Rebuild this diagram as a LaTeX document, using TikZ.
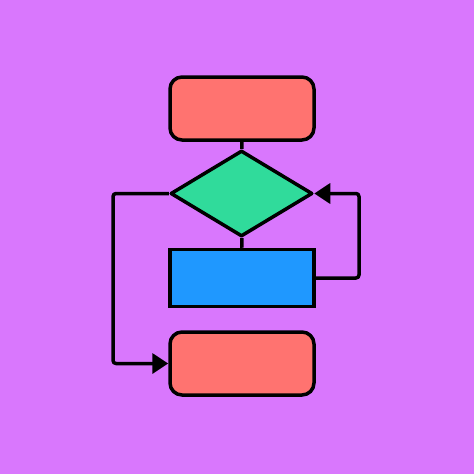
\documentclass[tikz,border=0pt]{standalone}
\usepackage{tikz}
\usetikzlibrary{shapes.geometric,arrows.meta}
\definecolor{bgpurple}{HTML}{D977FD}
\definecolor{salmon}{HTML}{FF7370}
\definecolor{mint}{HTML}{30DB9B}
\definecolor{skyblue}{HTML}{1F98FF}
\tikzset{
    box/.style={draw=black,line width=3.5pt,minimum width=144pt,inner sep=0pt},
    terminal/.style={box,rounded corners=12pt,fill=salmon,minimum height=63pt},
    decision/.style={draw=black,line width=3.5pt,diamond,fill=mint,inner sep=0pt,
        minimum width=142pt,minimum height=86pt,line join=round},
    process/.style={box,fill=skyblue,minimum height=57pt},
    flow/.style={line width=3.5pt,rounded corners=3pt,line join=round},
    loopflow/.style={flow,-{Triangle[length=16pt,width=20pt]}}
}
\begin{document}
\begin{tikzpicture}[x=1pt,y=-1pt]
                \useasboundingbox[fill=bgpurple] (0,0) rectangle (474,474);

                \node[terminal] (start) at (242,108.5) {};
                \node[decision] (check) at (241.5,193.5) {};
                \node[process] (task) at (242,278) {};
                \node[terminal] (finish) at (242,363.5) {};

                \coordinate (leftrail) at (113,0);
                \coordinate (rightrail) at (359,0);

                \draw[flow] (start) -- (check);
                \draw[flow] (check) -- (task);
                \draw[loopflow] (check.west) -- (check.west -| leftrail) |- (finish.west);
                \draw[loopflow] (task.east) -| (rightrail |- check.east) -- (check.east);
            \end{tikzpicture}
\end{document}
